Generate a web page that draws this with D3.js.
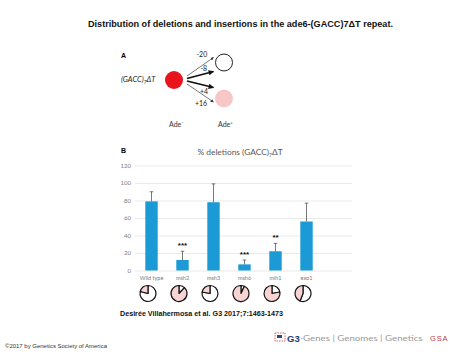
<!DOCTYPE html>
<html><head><meta charset="utf-8">
<script src="https://cdn.jsdelivr.net/npm/d3@7"></script>
<style>body{margin:0;background:#fff}svg{display:block}</style>
</head><body>
<script>
// ---- data ----
const categories = ["Wild type","msh2","msh3","msh6","mlh1","exo1"];
const deletionPct = [79, 12, 78, 7, 22, 56];
const errorTop = [90, 22, 99, 12, 31, 77];
const significance = ["", "***", "", "***", "**", ""];
const yTicks = [0,20,40,60,80,100,120];
const arrowLabels = ["-20","-8","+4","+16"];
const arrowWeights = [1, 2, 2, 1];

const W = 474, H = 355;
const svg = d3.select("body").append("svg").attr("width", W).attr("height", H);
const arial = "Liberation Sans, Arial, sans-serif";
const sans = "Lato, 'Open Sans', sans-serif";

// title
svg.append("text").attr("x", 88).attr("y", 27)
  .attr("font-family",arial).attr("font-weight","bold")
  .attr("font-size", 9).attr("fill","#111").attr("textLength",305).attr("lengthAdjust","spacingAndGlyphs")
  .text("Distribution of deletions and insertions in the ade6-(GACC)7\u0394T repeat.");

// ---- Panel A ----
svg.append("text").attr("x",121).attr("y",58).attr("font-family",arial).attr("font-weight","bold").attr("font-size",7).text("A");
const ga = svg.append("text").attr("x",121).attr("y",82).attr("font-family",sans).attr("font-style","italic").attr("font-size",7.5).attr("fill","#222");
ga.append("tspan").text("(GACC)");
ga.append("tspan").attr("font-size",5).attr("dy",2).text("7");
ga.append("tspan").attr("dy",-2).text("\u0394T");

svg.append("circle").attr("cx",174).attr("cy",80).attr("r",9).attr("fill","#e8131b");
svg.append("circle").attr("cx",224).attr("cy",62.5).attr("r",8.5).attr("fill","#fff").attr("stroke","#222").attr("stroke-width",1);
svg.append("circle").attr("cx",224).attr("cy",98.5).attr("r",9).attr("fill","#f7c6c7");

const defs = svg.append("defs");
defs.append("marker").attr("id","ah").attr("viewBox","0 0 10 10").attr("refX",9).attr("refY",5)
  .attr("markerWidth",4).attr("markerHeight",4).attr("orient","auto")
  .append("path").attr("d","M0,0L10,5L0,10z").attr("fill","#333");
defs.append("marker").attr("id","ah2").attr("viewBox","0 0 10 10").attr("refX",9).attr("refY",5)
  .attr("markerWidth",3).attr("markerHeight",3).attr("orient","auto")
  .append("path").attr("d","M0,0L10,5L0,10z").attr("fill","#111");

const startY = {"-20":76,"-8":78.5,"+4":81,"+16":84};
const endY = {"-20":57.5,"-8":71.5,"+4":87.5,"+16":102};
arrowLabels.forEach((l,i)=>{
  svg.append("line").attr("x1",187).attr("y1",startY[l]).attr("x2",213.5).attr("y2",endY[l])
    .attr("stroke", arrowWeights[i]>1?"#111":"#555").attr("stroke-width",arrowWeights[i]>1?1.8:0.8)
    .attr("marker-end", arrowWeights[i]>1?"url(#ah2)":"url(#ah)");
});
const labPos = {"-20":[196.5,57.3],"-8":[200.5,71.3],"+4":[200,94],"+16":[195,106]};
arrowLabels.forEach(l=>{
  svg.append("text").attr("x",labPos[l][0]).attr("y",labPos[l][1]).attr("font-family",sans)
    .attr("font-size",7).attr("fill","#222").text(l);
});
[["Ade","\u2212",169],["Ade","+",218]].forEach(d=>{
  const t = svg.append("text").attr("x",d[2]).attr("y",127).attr("font-family",sans).attr("font-size",7).attr("fill","#333");
  t.append("tspan").text(d[0]);
  t.append("tspan").attr("font-size",4.5).attr("dy",-3).text(d[1]);
});

// ---- Panel B ----
svg.append("text").attr("x",121).attr("y",153).attr("font-family",arial).attr("font-weight","bold").attr("font-size",7).text("B");
const bt = svg.append("text").attr("x",240).attr("y",155).attr("text-anchor","middle").attr("font-family",sans).attr("font-size",8.4).attr("fill","#595959");
bt.append("tspan").text("% deletions (GACC)");
bt.append("tspan").attr("font-size",5).attr("dy",2).text("7");
bt.append("tspan").attr("dy",-2).text("\u0394T");

const y = d3.scaleLinear().domain([0,120]).range([270.5,165.5]);
const x = d3.scaleBand().domain(categories).range([136,322]).paddingInner(0.6).paddingOuter(0.3);

const gy = svg.append("g").attr("transform","translate(135,0)")
  .call(d3.axisLeft(y).tickValues(yTicks).tickSize(-217).tickPadding(4));
gy.select(".domain").remove();
gy.selectAll(".tick line").attr("stroke","#e3e3e3").attr("stroke-width",0.8);
gy.selectAll(".tick text").attr("font-family",sans).attr("font-size",6).attr("fill","#7a7a7a");

svg.append("g").selectAll("rect").data(categories).join("rect")
  .attr("x",d=>x(d)).attr("width",x.bandwidth())
  .attr("y",(d,i)=>y(deletionPct[i])).attr("height",(d,i)=>y(0)-y(deletionPct[i]))
  .attr("fill","#1b9ad6");

const eb = svg.append("g");
categories.forEach((c,i)=>{
  const cx = x(c)+x.bandwidth()/2;
  eb.append("line").attr("x1",cx).attr("x2",cx).attr("y1",y(deletionPct[i])).attr("y2",y(errorTop[i])).attr("stroke","#555").attr("stroke-width",0.8);
  eb.append("line").attr("x1",cx-1.8).attr("x2",cx+1.8).attr("y1",y(errorTop[i])).attr("y2",y(errorTop[i])).attr("stroke","#555").attr("stroke-width",0.8);
  if (significance[i]) eb.append("text").attr("x",cx).attr("y",y(errorTop[i])-3).attr("text-anchor","middle")
    .attr("font-family",arial).attr("font-weight","bold").attr("font-size",8).attr("fill","#111").text(significance[i]);
});

const gx = svg.append("g").attr("transform","translate(0,271)")
  .call(d3.axisBottom(x).tickSize(0).tickPadding(5));
gx.select(".domain").remove();
gx.selectAll(".tick text").attr("font-family",sans).attr("font-size",5.5).attr("fill","#7a7a7a");

// pies
const pie = d3.pie().sort(null);
const arc = d3.arc().innerRadius(0).outerRadius(8);
categories.forEach((c,i)=>{
  const cx = x(c)+x.bandwidth()/2 - 3.5;
  const g = svg.append("g").attr("transform",`translate(${cx},293.5)`);
  const arcs = pie([deletionPct[i], 100-deletionPct[i]]);
  g.selectAll("path").data(arcs).join("path").attr("d",arc)
    .attr("fill",(d,j)=>j===0?"#ffffff":"#f8d3d3").attr("stroke","#111").attr("stroke-width",1.2).attr("stroke-linejoin","round");
});

// citation
svg.append("text").attr("x",120).attr("y",316).attr("font-family",arial).attr("font-weight","bold")
  .attr("font-size",7).attr("fill","#111").attr("textLength",163).attr("lengthAdjust","spacingAndGlyphs")
  .text("Desirée Villahermosa et al. G3 2017;7:1463-1473");

// footer
svg.append("text").attr("x",5).attr("y",347.5).attr("font-family",arial).attr("font-size",5.5).attr("fill","#333")
  .attr("textLength",102).attr("lengthAdjust","spacingAndGlyphs")
  .text("\u00a92017 by Genetics Society of America");
const logo = svg.append("g");
logo.append("rect").attr("x",275).attr("y",333).attr("width",10).attr("height",8).attr("fill","none").attr("stroke","#c44").attr("stroke-width",0.8).attr("stroke-dasharray","1.5,1");
logo.append("rect").attr("x",277).attr("y",335).attr("width",5).attr("height",3).attr("fill","#2a4a86");
logo.append("text").attr("x",287).attr("y",341.5).attr("font-family",arial).attr("font-weight","bold").attr("font-size",9.5).attr("fill","#1d3d75").text("G3");
logo.append("text").attr("x",300.5).attr("y",341).attr("font-family",sans).attr("font-size",7.5).attr("fill","#9a9a9a")
  .attr("textLength",122).attr("lengthAdjust","spacingAndGlyphs").text("\u00b7Genes | Genomes | Genetics");
logo.append("text").attr("x",430).attr("y",340.5).attr("font-family",arial).attr("font-size",7.5).attr("fill","#b5443f").attr("letter-spacing",0.8).text("GSA");
</script>
</body></html>
